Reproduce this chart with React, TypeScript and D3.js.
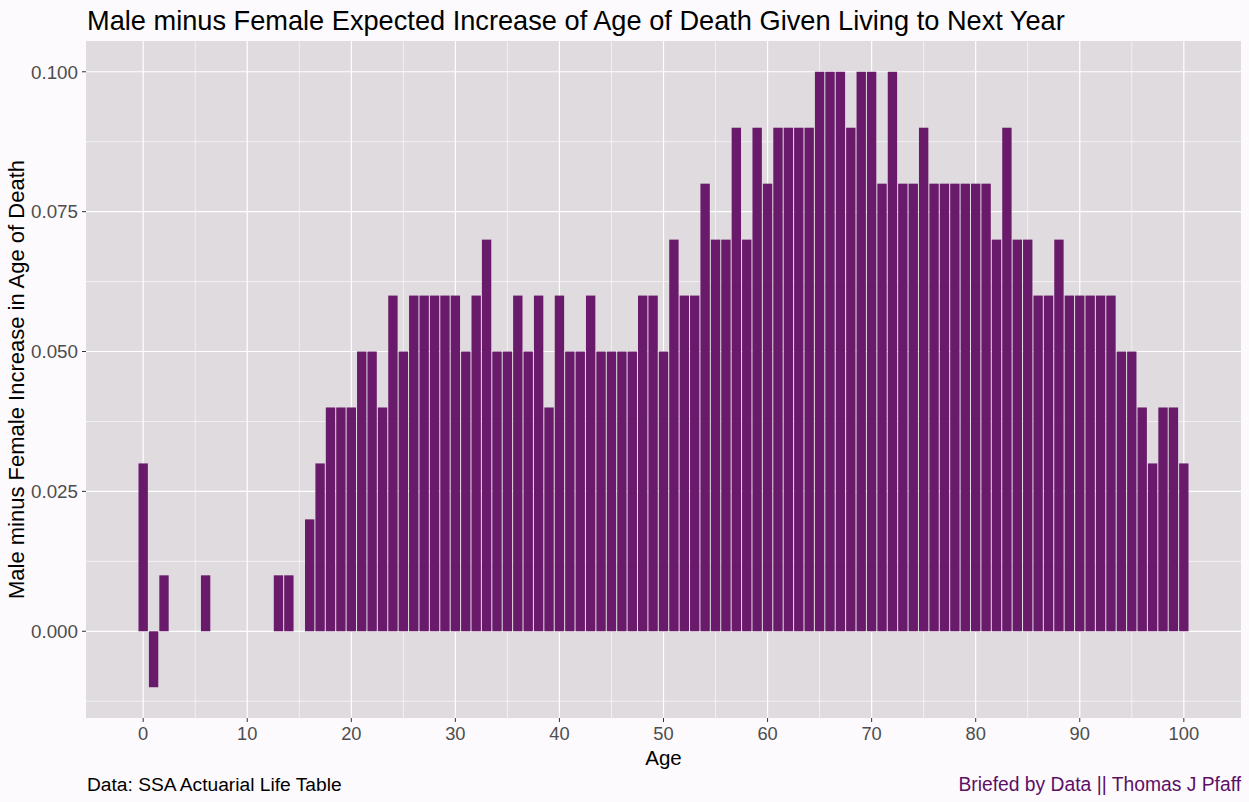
import React from 'react';
import * as d3 from 'd3';

// Male minus female difference, ages 0..100
const ages = d3.range(0, 101);
const diffValues = [
  0.03, -0.01, 0.01, 0, 0, 0, 0.01, 0, 0, 0,
  0, 0, 0, 0.01, 0.01, 0, 0.02, 0.03, 0.04, 0.04,
  0.04, 0.05, 0.05, 0.04, 0.06, 0.05, 0.06, 0.06, 0.06, 0.06,
  0.06, 0.05, 0.06, 0.07, 0.05, 0.05, 0.06, 0.05, 0.06, 0.04,
  0.06, 0.05, 0.05, 0.06, 0.05, 0.05, 0.05, 0.05, 0.06, 0.06,
  0.05, 0.07, 0.06, 0.06, 0.08, 0.07, 0.07, 0.09, 0.07, 0.09,
  0.08, 0.09, 0.09, 0.09, 0.09, 0.1, 0.1, 0.1, 0.09, 0.1,
  0.1, 0.08, 0.1, 0.08, 0.08, 0.09, 0.08, 0.08, 0.08, 0.08,
  0.08, 0.08, 0.07, 0.09, 0.07, 0.07, 0.06, 0.06, 0.07, 0.06,
  0.06, 0.06, 0.06, 0.06, 0.05, 0.05, 0.04, 0.03, 0.04, 0.04,
  0.03,
];
const xTicks = [0, 10, 20, 30, 40, 50, 60, 70, 80, 90, 100];
const xMinor = [5, 15, 25, 35, 45, 55, 65, 75, 85, 95];
const yTicks = [0, 0.025, 0.05, 0.075, 0.1];
const yMinor = [-0.0125, 0.0125, 0.0375, 0.0625, 0.0875];

const W = 1249;
const H = 802;
const left = 86;
const right = 1241;
const top = 41;
const bottom = 718;
const FONT = 'Liberation Sans, Arial, sans-serif';

export default function App() {
  const data = ages.map((a, i) => ({ age: a, value: diffValues[i] }));

  const x = d3.scaleLinear().domain([-5.495, 105.495]).range([left, right]);
  const y = d3.scaleLinear().domain([-0.0155, 0.1055]).range([bottom, top]);
  const barW = x(0.9) - x(0);
  const fmt = d3.format('.3f');

  return (
    <div style={{ position: 'fixed', left: 0, top: 0 }}>
      <svg width={W} height={H} style={{ display: 'block' }} fontFamily={FONT}>
        <rect x={0} y={0} width={W} height={H} fill="#fcfafd" />
        <rect x={left} y={top} width={right - left} height={bottom - top} fill="#dfdbdf" />

        {/* minor grid */}
        {xMinor.map(t => (
          <line key={'xm' + t} x1={x(t)} x2={x(t)} y1={top} y2={bottom} stroke="#fff" strokeWidth={0.6} />
        ))}
        {yMinor.map(t => (
          <line key={'ym' + t} x1={left} x2={right} y1={y(t)} y2={y(t)} stroke="#fff" strokeWidth={0.6} />
        ))}
        {/* major grid */}
        {xTicks.map(t => (
          <line key={'xg' + t} x1={x(t)} x2={x(t)} y1={top} y2={bottom} stroke="#fff" strokeWidth={1.2} />
        ))}
        {yTicks.map(t => (
          <line key={'yg' + t} x1={left} x2={right} y1={y(t)} y2={y(t)} stroke="#fff" strokeWidth={1.2} />
        ))}

        {/* bars */}
        {data.filter(d => d.value !== 0).map(d => (
          <rect
            key={d.age}
            x={x(d.age) - barW / 2}
            width={barW}
            y={y(Math.max(0, d.value))}
            height={Math.abs(y(d.value) - y(0))}
            fill="#6a1a6a"
          />
        ))}

        {/* y axis */}
        {yTicks.map(t => (
          <g key={'yt' + t}>
            <line x1={left - 4} x2={left} y1={y(t)} y2={y(t)} stroke="#333" strokeWidth={1} />
            <text x={left - 8} y={y(t)} dy="0.36em" textAnchor="end" fontSize={18.8} fill="#4d4d4d">
              {fmt(t)}
            </text>
          </g>
        ))}
        {/* x axis */}
        {xTicks.map(t => (
          <g key={'xt' + t}>
            <line x1={x(t)} x2={x(t)} y1={bottom} y2={bottom + 4} stroke="#333" strokeWidth={1} />
            <text x={x(t)} y={bottom + 22} textAnchor="middle" fontSize={18.3} fill="#4d4d4d">
              {t}
            </text>
          </g>
        ))}

        <text x={(left + right) / 2} y={765} textAnchor="middle" fontSize={20.5} fill="#000">
          Age
        </text>
        <text
          transform={`translate(24,${(top + bottom) / 2}) rotate(-90)`}
          textAnchor="middle"
          fontSize={22}
          fill="#000"
        >
          Male minus Female Increase in Age of Death
        </text>

        <text x={left + 1} y={30} fontSize={27.2} fill="#000">
          Male minus Female Expected Increase of Age of Death Given Living to Next Year
        </text>

        <text x={left + 1} y={791} fontSize={19.2} fill="#000">
          Data: SSA Actuarial Life Table
        </text>
        <text x={right} y={791} textAnchor="end" fontSize={19.3} fill="#5c0f66">
          Briefed by Data || Thomas J Pfaff
        </text>
      </svg>
    </div>
  );
}
